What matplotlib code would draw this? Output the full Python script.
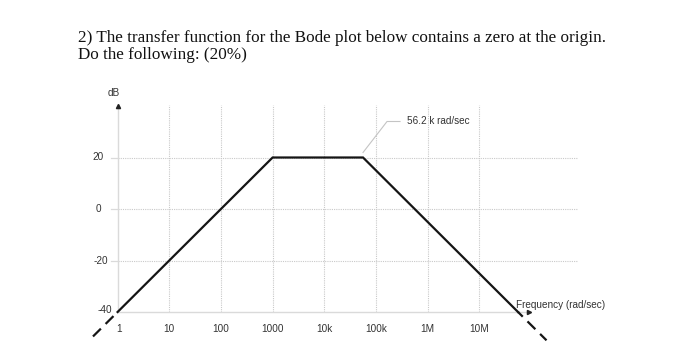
import matplotlib
matplotlib.use("Agg")
import matplotlib.pyplot as plt
from matplotlib.transforms import offset_copy, Affine2D

# ---- data ----
title_lines = ["2) The transfer function for the Bode plot below contains a zero at the origin.",
               "Do the following: (20%)"]
bp_freq = [1, 1000, 56200, 5.62e7]          # rad/sec
bp_db = [-40, 20, 20, -40]                 # dB
ext_left_freq = [0.334, 1]
ext_left_db = [-49.5, -40]
ext_right_freq = [5.62e7, 2.0e8]
ext_right_db = [-40, -51]
x_ticks = [1, 10, 100, 1000, 1e4, 1e5, 1e6, 1e7]
x_tick_labels = ["1", "10", "100", "1000", "10k", "100k", "1M", "10M"]
y_ticks = [20, 0, -20, -40]
y_tick_labels = ["20", "0", "-20", "-40"]
corner_freq = 56200
corner_db = 20
corner_label = "56.2 k rad/sec"
x_label = "Frequency (rad/sec)"
y_label = "dB"

W, H = 700, 361
fig = plt.figure(figsize=(W / 100, H / 100), dpi=100)
fig.patch.set_facecolor("white")

# axes geometry (pixels)
px_dec = 51.67
px_20db = 51.5
x1 = 117.6      # pixel of f=1
y40 = 312.0     # pixel of -40 dB
left = x1 - px_dec
right = x1 + 9 * px_dec
bottom = y40 + px_20db
top = y40 - 4 * px_20db
ax = fig.add_axes([left / W, (H - bottom) / H, (right - left) / W, (bottom - top) / H])
ax.set_xscale("log")
ax.set_xlim(1e-1, 1e9)
ax.set_ylim(-60, 40)
ax.axis("off")

grid_c = "#c9c9c9"
axis_c = "#dadada"
txt_c = "#333333"
sans = ["Liberation Sans", "DejaVu Sans"]


def off(dx, dy):
    return offset_copy(ax.transData, fig=fig, x=dx, y=dy, units="dots")


# vertical dotted grid lines
for xt in x_ticks[1:]:
    ax.plot([xt, xt], [-40, 40.5], color=grid_c, lw=0.8, ls=(0, (1, 1)), clip_on=False, zorder=1)
# horizontal dotted grid lines + small tick marks
for yt in y_ticks[:-1]:
    ax.plot([1, 8e8], [yt, yt], color=grid_c, lw=0.8, ls=(0, (1, 1)), clip_on=False, zorder=1)
    ax.plot([0.73, 1], [yt, yt], color=axis_c, lw=0.9, clip_on=False, zorder=1)

# axes lines with small arrow heads
ax.plot([1, 1], [-40, 39.5], color=axis_c, lw=1.0, clip_on=False, zorder=1)
ax.plot([1, 9.0e7], [-40, -40], color=axis_c, lw=1.0, clip_on=False, zorder=1)
ax.plot([1], [40], marker="^", ms=3, color="#222222", clip_on=False, zorder=3)
ax.plot([9.3e7], [-40], marker=">", ms=3, color="#222222", clip_on=False, zorder=3)

# asymptotic magnitude
line_c = "#151515"
ax.plot(bp_freq, bp_db, color=line_c, lw=1.6, clip_on=False, zorder=4, solid_joinstyle="miter")
ax.plot(ext_left_freq, ext_left_db, color=line_c, lw=1.6, ls=(0, (5, 3)), clip_on=False, zorder=4)
ax.plot(ext_right_freq, ext_right_db, color=line_c, lw=1.6, ls=(2, (5, 3)), clip_on=False, zorder=4)

# tick labels
fs = 7.2
for xt, lab in zip(x_ticks, x_tick_labels):
    ax.text(xt, -40, lab, transform=off(1.5 if xt == 1 else 0, -17), ha="center", va="center",
            fontsize=fs, color=txt_c, family=sans)
y_offsets = [(-19.5, 0), (-19.5, 0), (-17, 0), (-13, 2)]
for yt, lab, (dx, dy) in zip(y_ticks, y_tick_labels, y_offsets):
    ax.text(1, yt, lab, transform=off(dx, dy), ha="center", va="center", fontsize=fs,
            color=txt_c, family=sans)

# axis labels
ax.text(1, 40, y_label, transform=off(-4, 13), ha="center", va="center", fontsize=fs,
        color=txt_c, family=sans)
ax.text(9.3e7, -40, x_label, transform=off(-13, 7), ha="left", va="center", fontsize=fs,
        color=txt_c, family=sans)

# corner annotation with leader line (pixel offsets from the corner point)
lead_c = "#c4c4c4"
fig.canvas.draw()
cx, cy = ax.transData.transform((corner_freq, corner_db))
ax.plot([0, 24, 37], [5, 36, 36], color=lead_c, lw=0.8, clip_on=False,
        transform=Affine2D().translate(cx, cy))
ax.text(corner_freq, corner_db, corner_label, transform=off(44, 36), ha="left", va="center",
        fontsize=fs, color=txt_c, family=sans)

# title
serif = ["Liberation Serif", "DejaVu Serif"]
fig.text(78 / W, 1 - 41.7 / H, title_lines[0], ha="left", va="baseline", fontsize=12.3,
         family=serif, color="#111111")
fig.text(78 / W, 1 - 59.3 / H, title_lines[1], ha="left", va="baseline", fontsize=12.3,
         family=serif, color="#111111")

fig.savefig("out.png", dpi=100)
